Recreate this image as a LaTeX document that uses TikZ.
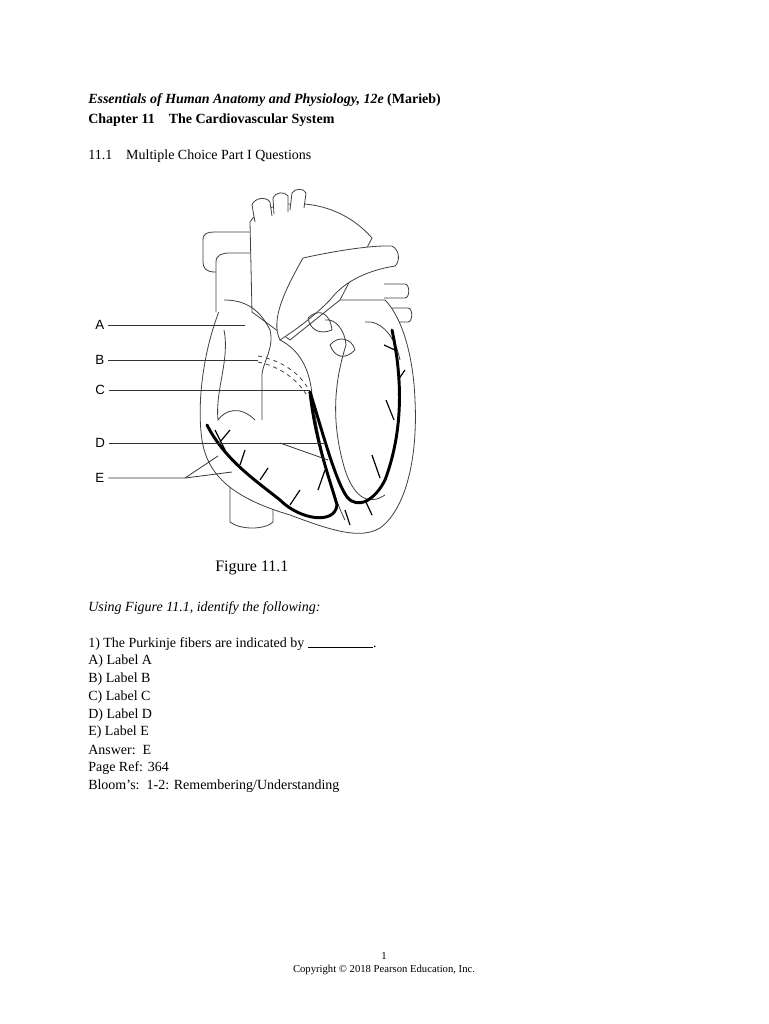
\documentclass[tikz,border=0pt]{standalone}
\usepackage{fontspec}
\setmainfont{Liberation Serif}
\newfontfamily\arialf{Liberation Sans}
\begin{document}
\begin{tikzpicture}[x=0.75pt,y=-0.75pt,
  txt/.style={anchor=west,inner sep=0,font=\fontsize{10.5}{12}\selectfont},
  lab/.style={anchor=west,inner sep=0,font=\arialf\fontsize{10}{12}\selectfont},
  ol/.style={draw=black!75,line width=0.6pt},
  thick/.style={draw=black,line width=2.2pt,line cap=round},
  br/.style={draw=black,line width=0.9pt},
  ld/.style={draw=black!80,line width=0.6pt}]
\useasboundingbox[fill=white] (0,0) rectangle (768,1024);
% text
\node[txt] (h1) at (88,100) {\textbf{\textit{Essentials of Human Anatomy and Physiology, 12e}} \textbf{(Marieb)}};
\node[txt] (h2) at (88,120) {\textbf{Chapter 11\quad The Cardiovascular System}};
\node[txt] (s1) at (88,156) {11.1\quad Multiple Choice Part I Questions};
\node[txt,font=\fontsize{12}{14}\selectfont] (fig) at (215,568) {Figure 11.1};
\node[txt] (u) at (88,608) {\textit{Using Figure 11.1, identify the following:}};
\node[txt] (q1) at (88,644) {1) The Purkinje fibers are indicated by \rule{49pt}{0.4pt}.};
\node[txt] (qa) at (88,661) {A) Label A};
\node[txt] (qb) at (88,679) {B) Label B};
\node[txt] (qc) at (88,697) {C) Label C};
\node[txt] (qd) at (88,715) {D) Label D};
\node[txt] (qe) at (88,732) {E) Label E};
\node[txt] (an) at (88,750) {Answer:\ \ E};
\node[txt] (pr) at (88,768) {Page Ref: 364};
\node[txt] (bl) at (88,786) {Bloom's:\ \ 1-2: Remembering/Understanding};
\node[inner sep=0,font=\fontsize{8}{10}\selectfont] (pg) at (384,956) {1};
\node[inner sep=0,font=\fontsize{8}{10}\selectfont] (cp) at (384,970) {Copyright \textcopyright{} 2018 Pearson Education, Inc.};
% heart outlines
\draw[ol,fill=white] (203,240) .. controls (203,233) and (208,232) .. (215,232) -- (262,232) -- (262,272) -- (215,272) .. controls (206,272) and (203,268) .. (203,262) -- cycle;
\draw[ol,fill=white] (384,284) -- (405,284) .. controls (410,284) and (410,298) .. (405,298) -- (384,298);
\draw[ol,fill=white] (388,308) -- (408,308) .. controls (413,308) and (413,322) .. (408,322) -- (388,322);
\draw[ol,fill=white] (230,480) -- (230,522) .. controls (240,530) and (265,530) .. (273,522) -- (273,485);
\draw[ol,fill=white] (224,300) .. controls (205,340) and (196,400) .. (202,440) .. controls (208,480) and (240,500) .. (290,515) .. controls (330,530) and (360,540) .. (380,528) .. controls (405,510) and (418,460) .. (415,400) .. controls (413,350) and (400,315) .. (385,300) -- cycle;
% SVC
\draw[ol,fill=white] (216,312) -- (216,262) .. controls (216,255) and (222,253) .. (230,253) -- (258,253) -- (258,312);
% aorta
\draw[ol,fill=white] (252,312) -- (250,222) .. controls (262,200) and (330,190) .. (372,238) -- (340,300) -- (290,340) -- cycle;
\draw[ol,fill=white] (255,222) -- (252,205) .. controls (254,198) and (266,196) .. (270,202) -- (272,216);
\draw[ol,fill=white] (274,214) -- (273,198) .. controls (275,192) and (285,191) .. (288,196) -- (288,212);
\draw[ol,fill=white] (290,210) -- (292,193) .. controls (295,188) and (304,188) .. (306,193) -- (304,208);
% pulmonary trunk
\draw[ol,fill=white] (303,258) .. controls (330,252) and (370,245) .. (392,246) .. controls (400,250) and (400,262) .. (395,266) .. controls (370,270) and (345,280) .. (330,300) .. controls (310,320) and (295,330) .. (280,340) .. controls (270,320) and (285,290) .. (303,258) -- cycle;
% septum & inner chambers
\draw[ol] (280,340) .. controls (300,350) and (310,370) .. (312,395) .. controls (318,440) and (330,490) .. (345,520);
\draw[ol] (325,320) .. controls (335,318) and (345,330) .. (346,345) .. controls (335,380) and (330,420) .. (345,470) .. controls (355,500) and (370,505) .. (385,495);
\draw[ol] (308,318) .. controls (318,308) and (330,312) .. (332,330) .. controls (320,335) and (310,330) .. (308,318);
\draw[ol] (330,345) .. controls (338,335) and (352,338) .. (355,350) .. controls (345,360) and (335,358) .. (330,345);
\draw[ol] (365,322) .. controls (380,320) and (395,335) .. (400,360);
\draw[ol] (224,300) .. controls (240,300) and (258,305) .. (270,330) .. controls (275,350) and (260,365) .. (262,380) .. controls (262,395) and (262,410) .. (262,420);
\draw[ol] (224,330) .. controls (230,360) and (215,390) .. (218,420) .. controls (225,410) and (240,405) .. (255,420);
% conduction
\draw[ol,dashed] (258,356) .. controls (280,360) and (300,372) .. (310,392);
\draw[ol,dashed] (258,362) .. controls (278,366) and (296,378) .. (306,394);
\draw[thick] (310,392) .. controls (322,430) and (335,480) .. (347,497) .. controls (358,510) and (375,500) .. (385,480) .. controls (400,440) and (405,390) .. (392,330);
\draw[thick] (310,392) .. controls (315,440) and (330,480) .. (337,505) .. controls (335,525) and (300,520) .. (280,500) .. controls (255,480) and (225,460) .. (207,425);
\draw[br] (225,450) -- (215,430) (240,465) -- (245,450) (260,480) -- (268,468) (290,505) -- (300,490) (318,490) -- (325,470) (365,500) -- (372,515) (380,478) -- (372,455) (394,420) -- (386,400) (398,380) -- (405,370) (395,350) -- (384,345) (220,442) -- (230,430) (345,510) -- (350,525);
% leader lines
\node[lab] (A) at (95,325) {A};
\node[lab] (B) at (95,360) {B};
\node[lab] (C) at (95,390) {C};
\node[lab] (D) at (95,443) {D};
\node[lab] (E) at (95,478) {E};
\coordinate (pa) at (245,325);
\coordinate (pb) at (258,360);
\coordinate (pc) at (310,390);
\coordinate (pd) at (325,443);
\coordinate (pd2) at (328,460);
\coordinate (pdj) at (280,443);
\coordinate (pej) at (185,478);
\coordinate (pe1) at (218,456);
\coordinate (pe2) at (232,472);
\draw[ld] (A.east)++(4,0) -- (pa);
\draw[ld] (B.east)++(4,0) -- (pb);
\draw[ld] (C.east)++(4,0) -- (pc);
\draw[ld] (D.east)++(4,0) -- (pd);
\draw[ld] (pdj) -- (pd2);
\draw[ld] (E.east)++(4,0) -- (pej) -- (pe1);
\draw[ld] (pej) -- (pe2);
\end{tikzpicture}
\end{document}
